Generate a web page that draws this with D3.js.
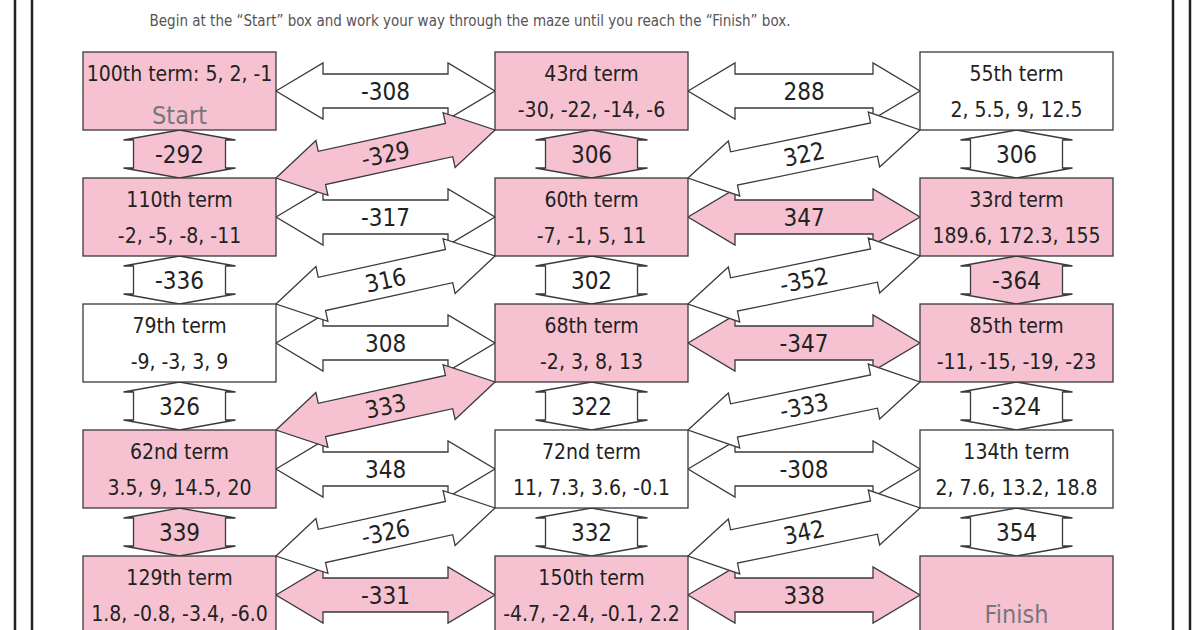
<!DOCTYPE html>
<html><head><meta charset="utf-8">
<script src="https://cdn.jsdelivr.net/npm/d3@7"></script>
<style>body{margin:0;background:#fff}svg{display:block}</style>
</head><body><svg id="c" width="1200" height="630"></svg>
<script>
const title = "Begin at the \u201cStart\u201d box and work your way through the maze until you reach the \u201cFinish\u201d box.";
const boxTitles = [["100th term: 5, 2, -1","43rd term","55th term"],["110th term","60th term","33rd term"],["79th term","68th term","85th term"],["62nd term","72nd term","134th term"],["129th term","150th term",""]];
const boxSeqs = [["","-30, -22, -14, -6","2, 5.5, 9, 12.5"],["-2, -5, -8, -11","-7, -1, 5, 11","189.6, 172.3, 155"],["-9, -3, 3, 9","-2, 3, 8, 13","-11, -15, -19, -23"],["3.5, 9, 14.5, 20","11, 7.3, 3.6, -0.1","2, 7.6, 13.2, 18.8"],["1.8, -0.8, -3.4, -6.0","-4.7, -2.4, -0.1, 2.2",""]];
const boxPink = [[1,1,0],[1,1,1],[0,1,1],[1,0,0],[1,1,1]];
const hLabels = [["-308","288"],["-317","347"],["308","-347"],["348","-308"],["-331","338"]];
const hPink = [[0,0],[0,1],[0,1],[0,0],[1,1]];
const vLabels = [["-292","306","306"],["-336","302","-364"],["326","322","-324"],["339","332","354"]];
const vPink = [[1,1,0],[0,0,1],[0,0,0],[1,0,0]];
const dLabels = [["-329","322"],["316","-352"],["333","-333"],["-326","342"]];
const dPink = [[1,0],[0,0],[1,0],[0,0]];

const PINK="#f6c2d1", STROKE="#3a3a3a", FONT="'DejaVu Sans Condensed','Liberation Sans Narrow',sans-serif";
const svg=d3.select("#c");
const xCol=d3.scaleOrdinal().domain([0,1,2]).range([83,495,920]);
const yRow=d3.scaleLinear().domain([0,1]).range([52,178]);
const BW=193, BH=78;

[15,32,1173,1190].forEach(x=>svg.append("line").attr("x1",x).attr("x2",x).attr("y1",0).attr("y2",630).attr("stroke","#222").attr("stroke-width",2.5));
svg.append("text").attr("x",470).attr("y",26).attr("text-anchor","middle").attr("font-family",FONT).attr("font-size",15).attr("fill","#555").text(title);

function arrowPts(L,h,hw,sw){return [[0,0],[h,-hw],[h,-sw],[L-h,-sw],[L-h,-hw],[L,0],[L-h,hw],[L-h,sw],[h,sw],[h,hw]];}
function arrow(x1,y1,x2,y2,h,hw,sw,pink,label,rotLabel){
  const L=Math.hypot(x2-x1,y2-y1), a=Math.atan2(y2-y1,x2-x1)*180/Math.PI;
  const g=svg.append("g").attr("transform",`translate(${x1},${y1}) rotate(${a})`);
  g.append("polygon").attr("points",arrowPts(L,h,hw,sw).map(p=>p.join(",")).join(" "))
   .attr("fill",pink?PINK:"#fff").attr("stroke",STROKE).attr("stroke-width",1.3);
  const mx=(x1+x2)/2,my=(y1+y2)/2;
  svg.append("text").attr("transform",`translate(${mx},${my}) rotate(${rotLabel?a:0})`).attr("dy","0.36em")
   .attr("text-anchor","middle").attr("font-family",FONT).attr("font-size",24).attr("fill","#222").text(label);
}

hLabels.forEach((row,r)=>row.forEach((lab,c)=>{
  const y=yRow(r)+BH/2;
  arrow(xCol(c)+BW,y,xCol(c+1),y,47,28,17,hPink[r][c],lab,false);
}));
vLabels.forEach((row,r)=>row.forEach((lab,c)=>{
  const x=xCol(c)+BW/2;
  const L=yRow(r+1)-yRow(r)-BH;
  const g=svg.append("g").attr("transform",`translate(${x},${yRow(r)+BH}) rotate(90)`);
  g.append("polygon").attr("points",arrowPts(L,10,56,46).map(p=>p.join(",")).join(" "))
   .attr("fill",vPink[r][c]?PINK:"#fff").attr("stroke",STROKE).attr("stroke-width",1.3);
  svg.append("text").attr("x",x).attr("y",yRow(r)+BH+L/2).attr("dy","0.36em").attr("text-anchor","middle")
   .attr("font-family",FONT).attr("font-size",24).attr("fill","#222").text(lab);
}));
dLabels.forEach((row,r)=>row.forEach((lab,c)=>{
  arrow(xCol(c)+BW,yRow(r+1),xCol(c+1),yRow(r)+BH,47,28,17,dPink[r][c],lab,true);
}));
boxTitles.forEach((row,r)=>row.forEach((t,c)=>{
  const x=xCol(c),y=yRow(r);
  svg.append("rect").attr("x",x).attr("y",y).attr("width",BW).attr("height",BH)
   .attr("fill",boxPink[r][c]?PINK:"#fff").attr("stroke",STROKE).attr("stroke-width",1.3);
  svg.append("text").attr("x",x+BW/2).attr("y",y+21).attr("dy","0.36em").attr("text-anchor","middle")
   .attr("font-family",FONT).attr("font-size",21).attr("fill","#222").text(t);
  svg.append("text").attr("x",x+BW/2).attr("y",y+57).attr("dy","0.36em").attr("text-anchor","middle")
   .attr("font-family",FONT).attr("font-size",21).attr("fill","#222").text(boxSeqs[r][c]);
}));
svg.append("text").attr("x",xCol(0)+BW/2).attr("y",yRow(0)+63).attr("dy","0.36em").attr("text-anchor","middle")
 .attr("font-family",FONT).attr("font-size",25).attr("fill","#777").text("Start");
svg.append("text").attr("x",xCol(2)+BW/2).attr("y",yRow(4)+58).attr("dy","0.36em").attr("text-anchor","middle")
 .attr("font-family",FONT).attr("font-size",25).attr("fill","#777").text("Finish");
</script></body></html>
